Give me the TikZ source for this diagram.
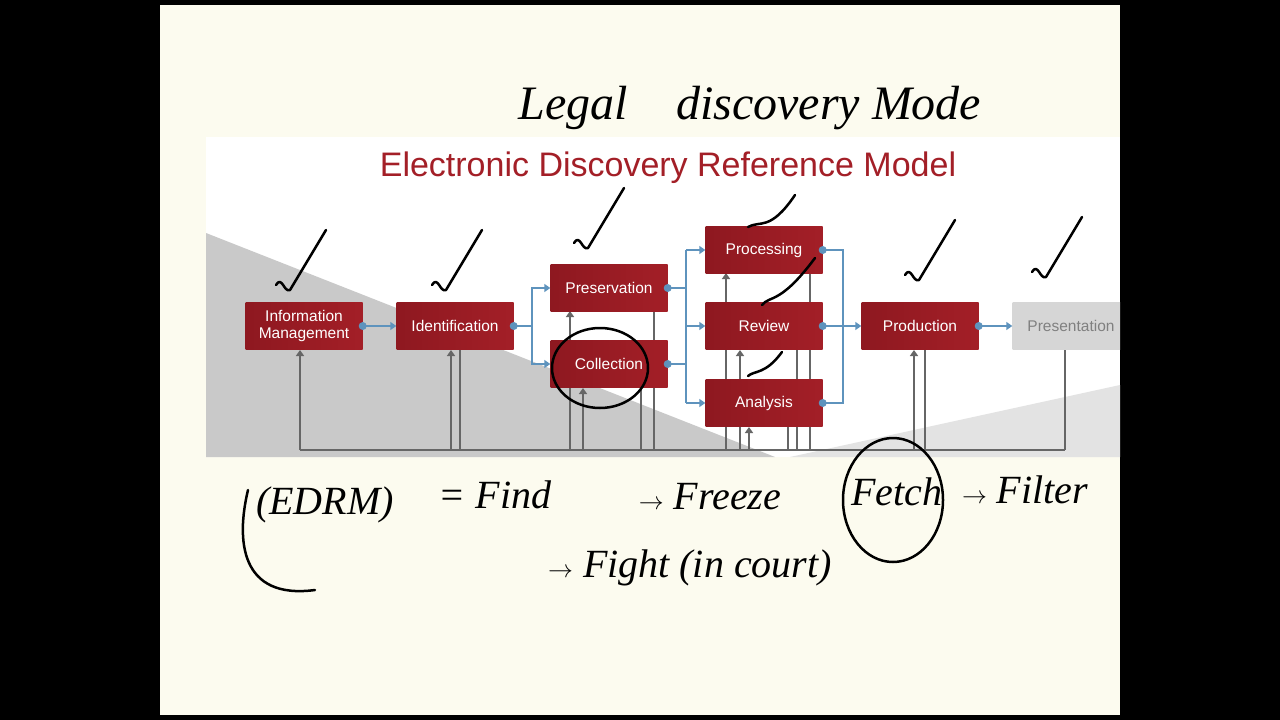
\documentclass[tikz,border=0pt]{standalone}
\usepackage{fontspec}
\setmainfont{Liberation Sans}
\newfontfamily\hand{Liberation Serif}
\usetikzlibrary{arrows.meta}
\definecolor{cream}{HTML}{FCFBEF}
\definecolor{edred}{HTML}{A31F27}
\definecolor{edreddark}{HTML}{8E1820}
\definecolor{flow}{HTML}{5E93BD}
\definecolor{fb}{HTML}{666666}
\begin{document}
\begin{tikzpicture}[x=1pt,y=-1pt,
  box/.style={draw=none,minimum width=117pt,minimum height=47pt,left color=edreddark,right color=edred,text=white,font=\fontsize{15.5}{17}\selectfont,align=center,inner sep=0pt},
  fl/.style={draw=flow,line width=2.5pt,-{Triangle[width=8pt,length=6pt]}},
  fln/.style={draw=flow,line width=2.5pt},
  dot/.style={fill=flow,circle,inner sep=0pt,minimum size=8pt},
  fbk/.style={draw=fb,line width=2.5pt},
  fba/.style={draw=fb,line width=2.5pt,-{Triangle[width=8pt,length=6pt]}},
  ink/.style={draw=black,line width=2.5pt,line cap=round,line join=round},
  hw/.style={font=\hand\itshape\fontsize{40}{42}\selectfont,text=black,inner sep=0pt}]
\useasboundingbox (0,0) rectangle (1280,720);
\fill[black] (0,0) rectangle (1280,720);
\fill[cream] (160,5) rectangle (1120,715);
\fill[white] (206,137) rectangle (1120,457);
\fill[gray!42] (206,233) -- (775,457) -- (206,457) -- cycle;
\fill[gray!22] (790,457) -- (1120,385) -- (1120,457) -- cycle;
\node[text=edred,font=\fontsize{34}{36}\selectfont] (title) at (668,168) {Electronic Discovery Reference Model};
% feedback lines (behind boxes)
\coordinate (b0) at (300,450); \coordinate (b1) at (1065,450);
\draw[fbk] (b0) -- (b1);
\foreach \x/\y/\a in {300/350/1,451/350/1,460/350/0,570/311/1,583/388/1,641/388/0,654/311/0,726/273/1,740/350/1,749/427/1,788/427/0,797/350/0,810/273/0,914/350/1,925/350/0,1065/350/0}{
  \ifnum\a=1 \draw[fba] (\x,450) -- (\x,\y); \else \draw[fbk] (\x,450) -- (\x,\y); \fi}
% boxes
\node[box] (im) at (304,326) {Information\\Management};
\node[box] (id) at (455,326) {Identification};
\node[box] (pr) at (609,288) {Preservation};
\node[box] (co) at (609,364) {Collection};
\node[box] (pc) at (764,250) {Processing};
\node[box] (rv) at (764,326) {Review};
\node[box] (an) at (764,403) {Analysis};
\node[box] (pd) at (920,326) {Production};
\begin{scope}
\clip (160,0) rectangle (1120,720);
\node[box,left color=gray!32,right color=gray!32,text=gray] (ps) at (1071,326) {Presentation};
\end{scope}
% flow
\draw[fl] (im.east) -- (id.west);
\draw[fln] (id.east) -- (532,326);
\draw[fl] (532,326) |- (pr.west);
\draw[fl] (532,326) |- (co.west);
\draw[fln] (pr.east) -- (686,288);
\draw[fln] (co.east) -- (686,364);
\draw[fln] (686,250) -- (686,403);
\draw[fl] (686,250) -- (pc.west);
\draw[fl] (686,326) -- (rv.west);
\draw[fl] (686,403) -- (an.west);
\draw[fln] (pc.east) -| (843,403) -- (an.east);
\draw[fl] (rv.east) -- (pd.west);
\draw[fl] (pd.east) -- (ps.west);
\foreach \n in {im,id,pr,co,pc,rv,an,pd} \node[dot] at (\n.east) {};
% handwriting
\node[hw,font=\hand\itshape\fontsize{48}{50}\selectfont] (h1) at (750,108) {Legal\quad discovery Mode};
\node[hw] (w1) at (325,505) {(EDRM)};
\node[hw] (w2) at (495,495) {= Find};
\node[hw] (w3) at (710,497) {$\to$ Freeze};
\node[hw] (w4) at (897,492) {Fetch};
\node[hw] (w5) at (1025,490) {$\to$ Filter};
\node[hw] (w6) at (690,568) {$\to$ Fight (in court)};
\draw[ink] (248,490) .. controls (236,540) and (240,600) .. (315,590);
% checkmarks
\foreach \x/\y in {276/285,432/285,574/243,905/275,1032/272}{
  \draw[ink] (\x,\y) .. controls (\x+6,\y-10) and (\x+8,\y+8) .. (\x+14,\y+5) -- (\x+50,\y-55);}
\draw[ink] (748,227) .. controls (760,220) and (770,232) .. (795,195);
\draw[ink] (762,305) .. controls (770,295) and (780,305) .. (815,258);
\draw[ink] (748,376) .. controls (755,370) and (765,375) .. (782,352);
% circles
\draw[ink] (600,368) ellipse (48pt and 40pt);
\draw[ink] (893,500) ellipse (50pt and 62pt);
\end{tikzpicture}
\end{document}
